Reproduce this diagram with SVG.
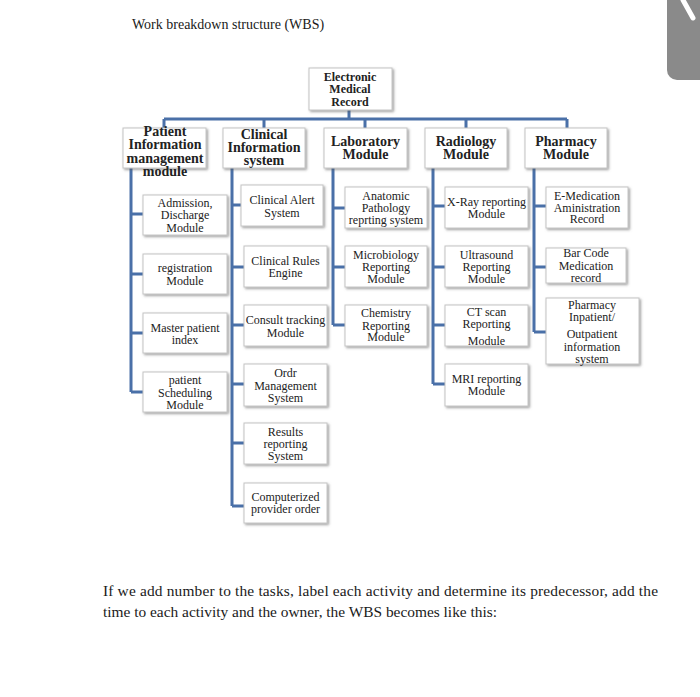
<svg xmlns="http://www.w3.org/2000/svg" width="700" height="697" viewBox="0 0 700 697">
<defs>
<filter id="sh" x="-10%" y="-10%" width="130%" height="140%">
<feDropShadow dx="1.5" dy="1.5" stdDeviation="0.8" flood-color="#555" flood-opacity="0.55"/>
</filter>
<style>
.box{fill:#fff;stroke:#c4c4c4;stroke-width:1;filter:url(#sh)}
.t{font-family:"Liberation Serif","Times New Roman",serif;fill:#222;text-anchor:middle}
.h{font-size:14px;font-weight:bold}
.r{font-size:12px;font-weight:bold}
.c{font-size:12px}
.p{font-family:"Liberation Serif","Times New Roman",serif;fill:#1a1a1a;font-size:14px}
.q{font-family:"Liberation Serif","Times New Roman",serif;fill:#1a1a1a;font-size:15.4px}
.ln{fill:none;stroke:#4a70a8;stroke-width:3}
</style>
</defs>
<rect width="700" height="697" fill="#fff"/>
<g id="corner">
<rect x="667" y="-12" width="45" height="92" rx="10" fill="#8a8a8a"/>
<line x1="683" y1="0" x2="693" y2="18" stroke="#fff" stroke-width="5" stroke-linecap="round"/>
</g>
<text class="p" x="132" y="29">Work breakdown structure (WBS)</text>

<g id="connectors" class="ln">
<path d="M349 110V119M164 119H567M164 119V128M264 119V128M365 119V128M466 119V128M567 119V128"/>
<path d="M131 167V392M131 214H143M131 274H143M131 333H143M131 392H143"/>
<path d="M232 168V506M232 205H241M232 267H244M232 325H244M232 384H244M232 443H244M232 506H244"/>
<path d="M333 168V325M333 208H345M333 267H345M333 325H345"/>
<path d="M433 168V384M433 206H445M433 267H445M433 325H445M433 384H445"/>
<path d="M534 168V332M534 206H546M534 267H546M534 332H546"/>
</g>

<g id="emr"><rect class="box" x="309" y="68" width="83" height="42"/>
<text class="t r"><tspan x="350" y="81">Electronic</tspan><tspan x="350" y="93">Medical</tspan><tspan x="350" y="106">Record</tspan></text></g>

<g id="patient"><rect class="box" x="123" y="128" width="83" height="40"/>
<text class="t h"><tspan x="165" y="136">Patient</tspan><tspan x="165" y="149">Information</tspan><tspan x="165" y="163">management</tspan><tspan x="165" y="176">module</tspan></text></g>
<g id="clinical"><rect class="box" x="223" y="128" width="82" height="40"/>
<text class="t h"><tspan x="264" y="139">Clinical</tspan><tspan x="264" y="152">Information</tspan><tspan x="264" y="165">system</tspan></text></g>
<g id="laboratory"><rect class="box" x="324" y="128" width="83" height="40"/>
<text class="t h"><tspan x="365.5" y="146">Laboratory</tspan><tspan x="365.5" y="159">Module</tspan></text></g>
<g id="radiology"><rect class="box" x="425" y="128" width="82" height="40"/>
<text class="t h"><tspan x="466" y="146">Radiology</tspan><tspan x="466" y="159">Module</tspan></text></g>
<g id="pharmacy"><rect class="box" x="525" y="128" width="82" height="40"/>
<text class="t h"><tspan x="566" y="146">Pharmacy</tspan><tspan x="566" y="159">Module</tspan></text></g>

<g id="admission"><rect class="box" x="143" y="195" width="84" height="40"/>
<text class="t c"><tspan x="185" y="207">Admission,</tspan><tspan x="185" y="219">Discharge</tspan><tspan x="185" y="232">Module</tspan></text></g>
<g id="registration"><rect class="box" x="143" y="254" width="84" height="40"/>
<text class="t c"><tspan x="185" y="272">registration</tspan><tspan x="185" y="285">Module</tspan></text></g>
<g id="master"><rect class="box" x="143" y="313" width="84" height="40"/>
<text class="t c"><tspan x="185" y="332">Master patient</tspan><tspan x="185" y="344">index</tspan></text></g>
<g id="scheduling"><rect class="box" x="143" y="372" width="84" height="40"/>
<text class="t c"><tspan x="185" y="384">patient</tspan><tspan x="185" y="397">Scheduling</tspan><tspan x="185" y="409">Module</tspan></text></g>

<g id="alert"><rect class="box" x="241" y="185" width="82" height="41"/>
<text class="t c"><tspan x="282" y="204">Clinical Alert</tspan><tspan x="282" y="217">System</tspan></text></g>
<g id="rules"><rect class="box" x="244" y="246" width="83" height="41"/>
<text class="t c"><tspan x="285.5" y="265">Clinical Rules</tspan><tspan x="285.5" y="277">Engine</tspan></text></g>
<g id="consult"><rect class="box" x="244" y="305" width="83" height="41"/>
<text class="t c"><tspan x="285.5" y="324">Consult tracking</tspan><tspan x="285.5" y="337">Module</tspan></text></g>
<g id="order"><rect class="box" x="244" y="364" width="83" height="42"/>
<text class="t c"><tspan x="285.5" y="377">Ordr</tspan><tspan x="285.5" y="390">Management</tspan><tspan x="285.5" y="402">System</tspan></text></g>
<g id="results"><rect class="box" x="244" y="423" width="83" height="41"/>
<text class="t c"><tspan x="285.5" y="436">Results</tspan><tspan x="285.5" y="448">reporting</tspan><tspan x="285.5" y="460">System</tspan></text></g>
<g id="cpoe"><rect class="box" x="244" y="483" width="83" height="40"/>
<text class="t c"><tspan x="285.5" y="501">Computerized</tspan><tspan x="285.5" y="513">provider order</tspan></text></g>

<g id="anatomic"><rect class="box" x="345" y="187" width="82" height="41"/>
<text class="t c"><tspan x="386" y="200">Anatomic</tspan><tspan x="386" y="212">Pathology</tspan><tspan x="386" y="224">reprting system</tspan></text></g>
<g id="microbiology"><rect class="box" x="345" y="246" width="82" height="41"/>
<text class="t c"><tspan x="386" y="259">Microbiology</tspan><tspan x="386" y="271">Reporting</tspan><tspan x="386" y="283">Module</tspan></text></g>
<g id="chemistry"><rect class="box" x="345" y="305" width="82" height="41"/>
<text class="t c"><tspan x="386" y="317">Chemistry</tspan><tspan x="386" y="330">Reporting</tspan><tspan x="386" y="341">Module</tspan></text></g>

<g id="xray"><rect class="box" x="445" y="187" width="83" height="41"/>
<text class="t c"><tspan x="486.5" y="206">X-Ray reporting</tspan><tspan x="486.5" y="218">Module</tspan></text></g>
<g id="ultrasound"><rect class="box" x="445" y="246" width="83" height="41"/>
<text class="t c"><tspan x="486.5" y="259">Ultrasound</tspan><tspan x="486.5" y="271">Reporting</tspan><tspan x="486.5" y="283">Module</tspan></text></g>
<g id="ct"><rect class="box" x="445" y="305" width="83" height="41"/>
<text class="t c"><tspan x="486.5" y="316">CT scan</tspan><tspan x="486.5" y="328">Reporting</tspan><tspan x="486.5" y="345">Module</tspan></text></g>
<g id="mri"><rect class="box" x="445" y="364" width="83" height="42"/>
<text class="t c"><tspan x="486.5" y="383">MRI reporting</tspan><tspan x="486.5" y="395">Module</tspan></text></g>

<g id="emed"><rect class="box" x="546" y="187" width="82" height="41"/>
<text class="t c"><tspan x="587" y="200">E-Medication</tspan><tspan x="587" y="212">Aministration</tspan><tspan x="587" y="223">Record</tspan></text></g>
<g id="barcode"><rect class="box" x="546" y="248" width="80" height="35"/>
<text class="t c"><tspan x="586" y="257">Bar Code</tspan><tspan x="586" y="270">Medication</tspan><tspan x="586" y="282">record</tspan></text></g>
<g id="inpatient"><rect class="box" x="546" y="298" width="93" height="66"/>
<text class="t c"><tspan x="592" y="309">Pharmacy</tspan><tspan x="592" y="321">Inpatient/</tspan><tspan x="592" y="338">Outpatient</tspan><tspan x="592" y="351">information</tspan><tspan x="592" y="363">system</tspan></text></g>

<text class="q" x="103" y="596" textLength="555" lengthAdjust="spacing">If we add number to the tasks, label each activity and determine its predecessor, add the</text>
<text class="q" x="103" y="617">time to each activity and the owner, the WBS becomes like this:</text>
</svg>
